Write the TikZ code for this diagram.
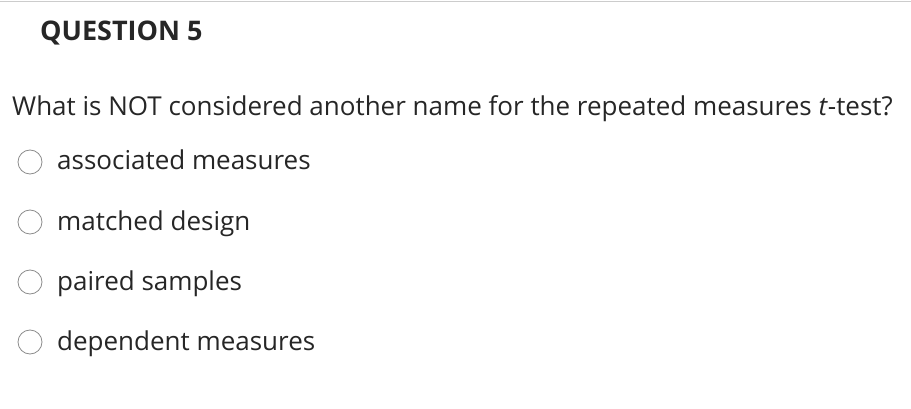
\documentclass[tikz,border=0pt]{standalone}
\usepackage{fontspec}
\setmainfont{Open Sans}
\begin{document}
\begin{tikzpicture}[x=1pt,y=-1pt,
  txt/.style={anchor=base west,inner sep=0pt,font=\fontsize{26}{30}\selectfont,text=black!85},
  radio/.style={circle,draw=black!45,line width=0.8pt,minimum size=24pt,inner sep=0pt,fill=white}]
\useasboundingbox (0,0) rectangle (911,409);
\draw[black!20,line width=1.5pt] (0,1.5) -- (911,1.5);
\node[txt,font=\bfseries\fontsize{27}{31}\selectfont] (q) at (40,41) {QUESTION 5};
\node[txt] (s) at (12,116) {What is NOT considered another name for the repeated measures \textit{t}-test?};
\foreach \n/\y/\t in {a/162/associated measures,b/222/matched design,c/282/paired samples,d/342/dependent measures}{
  \node[radio] (r\n) at (30,\y) {};
  \node[txt] (t\n) at (57,\y+8) {\t};
}
\end{tikzpicture}
\end{document}
